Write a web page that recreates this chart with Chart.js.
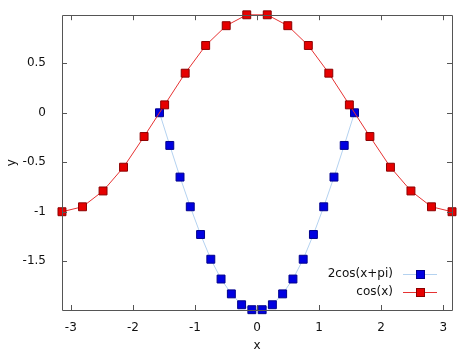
<!DOCTYPE html>
<html>
<head>
<meta charset="utf-8">
<script src="https://cdn.jsdelivr.net/npm/chart.js@4"></script>
<style>
  html, body { margin: 0; padding: 0; background: #fff; }
  #wrap { width: 474px; height: 355px; }
</style>
</head>
<body>
<div id="wrap"><canvas id="chart" width="474" height="355"></canvas></div>
<script>
// 2cos(x+pi)
const blueX = [-1.571, -1.405, -1.240, -1.075, -0.909, -0.744, -0.579, -0.413, -0.248, -0.083,
               0.083, 0.248, 0.413, 0.579, 0.744, 0.909, 1.075, 1.240, 1.405, 1.571]
const blueY = [0, -0.33, -0.65, -0.95, -1.23, -1.48, -1.68, -1.83, -1.94, -1.99,
               -1.99, -1.94, -1.83, -1.68, -1.48, -1.23, -0.95, -0.65, -0.33, 0]
// cos(x)
const redX = [-3.142, -2.811, -2.480, -2.150, -1.819, -1.488, -1.157, -0.827, -0.496, -0.165,
              0.165, 0.496, 0.827, 1.157, 1.488, 1.819, 2.150, 2.480, 2.811, 3.142]
const redY = [-1, -0.95, -0.79, -0.55, -0.24, 0.08, 0.40, 0.68, 0.88, 0.99,
              0.99, 0.88, 0.68, 0.40, 0.08, -0.24, -0.55, -0.79, -0.95, -1]
const xTicks = [-3, -2, -1, 0, 1, 2, 3]
const yTicks = [-1.5, -1, -0.5, 0, 0.5]
const seriesNames = ['2cos(x+pi)', 'cos(x)']

const FONT = 'DejaVu Sans'

function toPoints(xs, ys) {
    return xs.map(function (x, i) { return { x: x, y: ys[i] } })
}

// frame with inward ticks on all four sides + gnuplot style key
const framePlugin = {
    id: 'frame',
    afterDatasetsDraw: function (chart) {
        const ctx = chart.ctx
        const a = chart.chartArea
        const xs = chart.scales.x, ys = chart.scales.y
        ctx.save()
        ctx.strokeStyle = '#555'
        ctx.lineWidth = 1
        ctx.beginPath()
        ctx.rect(Math.round(a.left) + 0.5, Math.round(a.top) + 0.5,
                 Math.round(a.right - a.left), Math.round(a.bottom - a.top))
        xTicks.forEach(function (v) {
            let px = Math.round(xs.getPixelForValue(v)) + 0.5
            ctx.moveTo(px, a.bottom); ctx.lineTo(px, a.bottom - 5)
            ctx.moveTo(px, a.top); ctx.lineTo(px, a.top + 5)
        })
        yTicks.forEach(function (v) {
            let py = Math.round(ys.getPixelForValue(v)) + 0.5
            ctx.moveTo(a.left, py); ctx.lineTo(a.left + 5, py)
            ctx.moveTo(a.right, py); ctx.lineTo(a.right - 5, py)
        })
        ctx.stroke()

        // key
        const rows = [
            { label: seriesNames[0], line: 'rgb(180,210,240)', fill: 'rgb(0,0,225)', edge: 'rgb(0,0,140)', y: 274 },
            { label: seriesNames[1], line: 'rgb(230,50,50)', fill: 'rgb(230,0,0)', edge: 'rgb(140,0,0)', y: 292 }
        ]
        ctx.font = '12px "' + FONT + '"'
        ctx.textAlign = 'right'
        ctx.textBaseline = 'middle'
        rows.forEach(function (r) {
            ctx.fillStyle = '#111'
            ctx.fillText(r.label, 393, r.y)
            ctx.strokeStyle = r.line
            ctx.beginPath()
            ctx.moveTo(403, r.y + 0.5); ctx.lineTo(437, r.y + 0.5)
            ctx.stroke()
            ctx.fillStyle = r.fill
            ctx.fillRect(416.5, r.y - 3.5, 8, 8)
            ctx.strokeStyle = r.edge
            ctx.strokeRect(416.5, r.y - 3.5, 8, 8)
        })
        ctx.restore()
    }
}

new Chart(document.getElementById('chart'), {
    type: 'scatter',
    data: {
        datasets: [{
            label: seriesNames[1],
            data: toPoints(redX, redY),
            showLine: true,
            borderColor: 'rgb(230,50,50)',
            borderWidth: 1,
            pointStyle: 'rect',
            pointRadius: 5.6,
            pointBackgroundColor: 'rgb(230,0,0)',
            pointBorderColor: 'rgb(140,0,0)',
            pointBorderWidth: 1,
            clip: false,
            order: 0
        }, {
            label: seriesNames[0],
            data: toPoints(blueX, blueY),
            showLine: true,
            borderColor: 'rgb(180,210,240)',
            borderWidth: 1,
            pointStyle: 'rect',
            pointRadius: 5.6,
            pointBackgroundColor: 'rgb(0,0,225)',
            pointBorderColor: 'rgb(0,0,140)',
            pointBorderWidth: 1,
            clip: false,
            order: 1
        }]
    },
    options: {
        responsive: false,
        animation: false,
        layout: { padding: { left: 0, right: 22, top: 15, bottom: 0 } },
        plugins: {
            legend: { display: false },
            tooltip: { enabled: false }
        },
        scales: {
            x: {
                type: 'linear',
                min: -Math.PI,
                max: Math.PI,
                grid: { display: false },
                border: { display: false },
                afterBuildTicks: function (s) { s.ticks = xTicks.map(function (v) { return { value: v } }) },
                afterFit: function (s) { s.height = 45 },
                ticks: { color: '#111', padding: 3, font: { family: FONT, size: 12 },
                         callback: function (v) { return String(v) } },
                title: { display: true, text: 'x', color: '#111', padding: { top: 2, bottom: 2 }, font: { family: FONT, size: 12 } }
            },
            y: {
                type: 'linear',
                min: -1.993,
                max: 0.986,
                grid: { display: false },
                border: { display: false },
                afterBuildTicks: function (s) { s.ticks = yTicks.map(function (v) { return { value: v } }) },
                afterFit: function (s) { s.width = 62 },
                ticks: { color: '#111', padding: 8, font: { family: FONT, size: 12 },
                         callback: function (v) { return String(v) } },
                title: { display: true, text: 'y', color: '#111', padding: { top: 5, bottom: 0 }, font: { family: FONT, size: 12 } }
            }
        }
    },
    plugins: [framePlugin]
})
</script>
</body>
</html>
